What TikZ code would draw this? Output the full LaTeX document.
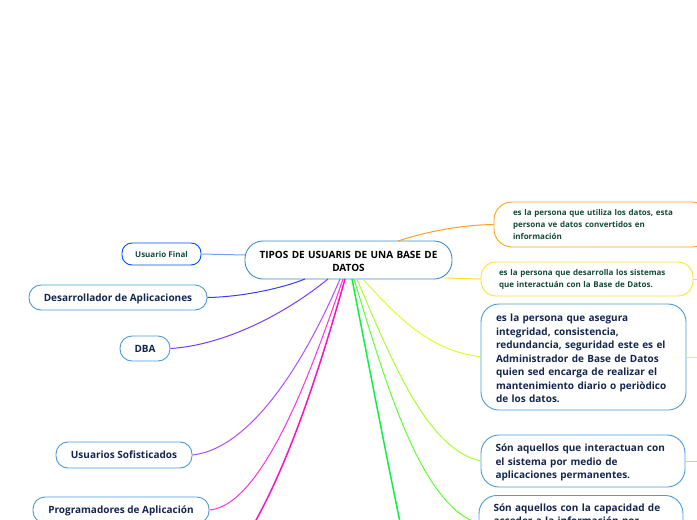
\documentclass[tikz,border=0pt]{standalone}
\usepackage{fontspec}
\setmainfont{Open Sans}
\definecolor{rootline}{HTML}{3A8DCC}
\definecolor{leafline}{HTML}{4A9BD8}
\definecolor{darktext}{HTML}{14264F}
\definecolor{greentext}{HTML}{134A3A}
\definecolor{linka}{HTML}{6F9FFF}
\definecolor{linkb}{HTML}{3B3BFF}
\definecolor{linkc}{HTML}{7B3BFF}
\definecolor{linkd}{HTML}{B14CFF}
\definecolor{linke}{HTML}{FF30E8}
\definecolor{linkf}{HTML}{FF10C0}
\definecolor{linkg}{HTML}{10F040}
\definecolor{linkh}{HTML}{60FF30}
\definecolor{linki}{HTML}{A8FF30}
\definecolor{linkj}{HTML}{D8FF30}
\definecolor{linkk}{HTML}{FFE030}
\definecolor{linkl}{HTML}{FFA020}
\newcommand{\lift}{\rule{0pt}{10.5pt}}
\tikzset{
  topic/.style={draw=leafline,line width=.9pt,fill=white,rounded corners=12pt,
    text=darktext,font=\fontsize{10}{13.5}\selectfont\bfseries,inner sep=0pt},
  single/.style={text depth=0pt},
  small/.style={topic,text=greentext,font=\fontsize{8}{12}\selectfont\bfseries},
  link/.style={line width=1pt},
  thick link/.style={line width=1.5pt}
}
\begin{document}
\begin{tikzpicture}[x=1pt,y=-1pt]
  \useasboundingbox (0,0) rectangle (697,520);
  \clip (0,0) rectangle (697,520);
  % left side
  \node[small,single,draw=blue!70!cyan,minimum width=79pt,minimum height=22pt,rounded corners=10pt] (final) at (161.5,254) {Usuario Final};
  \node[topic,single,minimum width=178pt,minimum height=25pt] (desa) at (118,297.5) {Desarrollador de Aplicaciones};
  \node[topic,single,minimum width=50pt,minimum height=25pt] (dba) at (145,348.5) {DBA};
  \node[topic,single,minimum width=136pt,minimum height=26pt] (sofis) at (124,455) {Usuarios Sofisticados};
  \node[topic,single,minimum width=176pt,minimum height=26pt] (progr) at (121,510) {Programadores de Aplicación};
  % right side
  \node[small,draw=linkl,minimum width=216pt,minimum height=45pt,text width=178pt,align=left,rounded corners=18pt] (usa) at (602,224.5) {es la persona que utiliza los datos, esta\\persona ve datos convertidos en\\información};
  \node[small,draw=linkk,minimum width=212pt,minimum height=34pt,text width=176pt,align=left,rounded corners=15pt] (desr) at (587,279) {es la persona que desarrolla los sistemas\\que interactuán con la Base de Datos.};
  \node[topic,minimum width=205pt,minimum height=106pt,text width=175pt,align=left,rounded corners=18pt] (adm) at (583.5,357) {\lift es la persona que asegura\\integridad, consistencia,\\redundancia, seguridad este es el\\Administrador de Base de Datos\\quien sed encarga de realizar el\\mantenimiento diario o periòdico\\de los datos.};
  \node[topic,minimum width=204pt,minimum height=52pt,text width=175pt,align=left,rounded corners=18pt] (inter) at (583,461) {\lift Són aquellos que interactuan con\\el sistema por medio de\\aplicaciones permanentes.};
  \node[topic,minimum width=204pt,minimum height=54pt,text width=175pt,anchor=north,align=left,rounded corners=18pt] (capa) at (581,495) {\rule{0pt}{16pt}Són aquellos con la capacidad de\\acceder a la información por\\\rule{0pt}{23pt}};
  % centre
  \node[topic,text=black,draw=rootline,minimum width=207pt,minimum height=38pt,text width=190pt,align=center,rounded corners=18pt] (root) at (348.5,260) {\lift TIPOS DE USUARIS DE UNA BASE DE\\DATOS};
  % free ends and root joints
  \coordinate (offa) at (255,522);
  \coordinate (offb) at (400,522);
  \coordinate (offc) at (697,279);
  \coordinate (offd) at (697,357);
  \coordinate (offe) at (697,461);
  \coordinate (rootw) at (245,255);
  \coordinate (rootn) at (398,241);
  \coordinate (roota) at (305,279);
  \coordinate (rootb) at (328,279);
  \coordinate (rootc) at (340,279);
  \coordinate (rootd) at (343,279);
  \coordinate (roote) at (345,279);
  \coordinate (rootf) at (352,279);
  \coordinate (rootg) at (354,279);
  \coordinate (rooth) at (357,279);
  \coordinate (rooti) at (363,279);
  \coordinate (rootj) at (445,278);
  % connectors
  \draw[link,linka] (final.east) -- (rootw);
  \draw[link,linkb] (desa.east) .. controls (240,297) and (280,289) .. (roota);
  \draw[link,linkc] (dba.east) .. controls (225,345) and (285,314) .. (rootb);
  \draw[link,linkd] (sofis.east) .. controls (255,448) and (310,350) .. (rootc);
  \draw[link,linke] (progr.east) .. controls (265,505) and (315,360) .. (rootd);
  \draw[thick link,linkf] (offa) .. controls (295,450) and (325,350) .. (roote);
  \draw[thick link,linkg] (offb) .. controls (385,450) and (365,345) .. (rootf);
  \draw[link,linkh] (capa.west) .. controls (420,505) and (385,380) .. (rootg);
  \draw[link,linki] (inter.west) .. controls (430,450) and (395,370) .. (rooth);
  \draw[link,linkj] (adm.west) .. controls (430,350) and (400,320) .. (rooti);
  \draw[link,linkk] (rootj) -- (desr.west);
  \draw[link,linkl] (usa.west) .. controls (460,225) and (425,232) .. (rootn);
  \draw[link,linkk] (desr.east) -- (offc);
  \draw[link,linkj] (adm.east) -- (offd);
  \draw[link,linki] (inter.east) -- (offe);
\end{tikzpicture}
\end{document}
